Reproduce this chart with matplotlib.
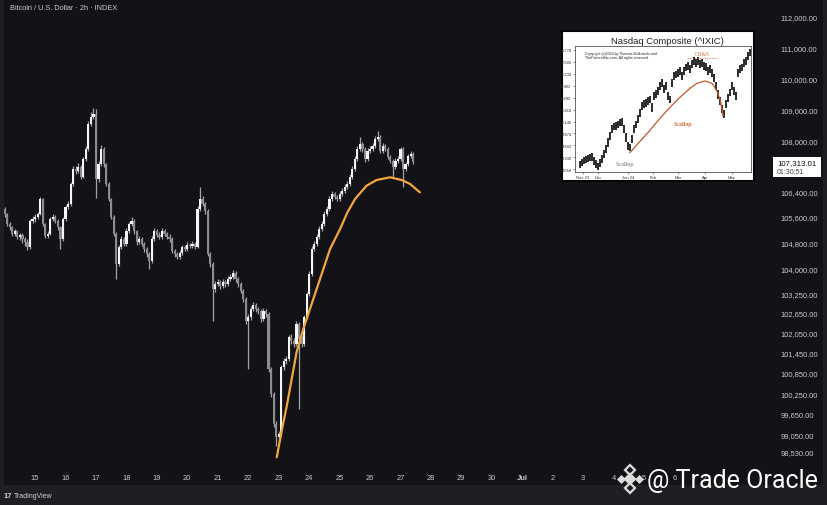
import numpy as np
import matplotlib
matplotlib.use('Agg')
import matplotlib.pyplot as plt
from matplotlib.patches import Rectangle
from matplotlib.lines import Line2D
from matplotlib.ticker import FixedLocator, NullLocator

# ---------------- data: BTCUSD 2h candles (June 14 -> June 27) ----------------
first_open = 106100
closes = [
    105841, 105685, 105375, 105280, 105065, 105157, 104970, 105033, 104910, 104817,
    104663, 105468, 105530, 105592, 105685, 106153, 105375, 105003, 105065, 105530,
    105592, 105468, 105281, 104910, 105530, 105903, 105997, 106624, 107096, 107033,
    107159, 106844, 107412, 107729, 108525, 108749, 108845, 106781, 107254, 107729,
    107254, 106624, 106153, 105592, 105065, 104140, 104663, 104910, 104755, 105157,
    105375, 105468, 105157, 104817, 104910, 104755, 104601, 104447, 104232, 104910,
    105157, 105033, 104972, 105157, 105065, 104972, 104910, 104540, 104447, 104355,
    104478, 104663, 104601, 104724, 104693, 104755, 104663, 105841, 106153, 105997,
    105779, 104447, 104140, 103376, 103528, 103589, 103467, 103589, 103528, 103681,
    103742, 103865, 103681, 103528, 103315, 103072, 102406, 102526, 102768, 102889,
    102768, 102708, 102466, 102708, 102617, 100968, 100227, 99345, 98965, 99053,
    101027, 101206, 101266, 101924, 101804, 101714, 102315, 101864, 101714, 102526,
    103224, 103834, 104601, 104755, 104972, 105219, 105375, 105685, 105841, 106153,
    106310, 106216, 106153, 106310, 106404, 106530, 106624, 106844, 107096, 107412,
    107729, 107887, 107729, 107412, 107666, 107729, 107824, 108046, 108110, 107666,
    107824, 107729, 107476, 107349, 107159, 107349, 107412, 107729, 107096, 107254,
    107507, 107571, 107313]
highs = [
    106220, 105900, 105720, 105450, 105320, 105230, 105200, 105110, 105090, 104980,
    104900, 105520, 105620, 105680, 105760, 106230, 106200, 105420, 105150, 105600,
    105680, 105650, 105520, 105320, 105600, 105960, 106080, 106700, 107180, 107200,
    107300, 107220, 107480, 107830, 108620, 108900, 109050, 109000, 107350, 107850,
    107800, 107300, 106700, 106200, 105650, 105120, 104740, 105000, 104980, 105240,
    105450, 105600, 105520, 105200, 105000, 104980, 104820, 104660, 104500, 104990,
    105250, 105230, 105120, 105240, 105220, 105130, 105050, 104980, 104600, 104510,
    104560, 104740, 104720, 104810, 104800, 104840, 104820, 105920, 106530, 106250,
    106050, 105830, 104520, 104200, 103620, 103680, 103650, 103680, 103650, 103760,
    103820, 103960, 103920, 103740, 103580, 103380, 103120, 102620, 102850, 102980,
    102950, 102840, 102760, 102790, 102770, 102680, 101030, 100290, 99420, 99140,
    101100, 101290, 101360, 102000, 102010, 101900, 102400, 102380, 101950, 102600,
    103300, 103920, 104680, 104850, 105060, 105300, 105460, 105770, 105930, 106240,
    106400, 106380, 106290, 106390, 106490, 106620, 106710, 106930, 107180, 107500,
    107830, 108110, 107960, 107800, 107750, 107830, 107920, 108140, 108300, 108180,
    107920, 107890, 107790, 107540, 107420, 107430, 107500, 107790, 107780, 107330,
    107580, 107660, 107620]
lows = [
    105760, 105600, 105300, 105180, 104990, 105000, 104900, 104880, 104800, 104700,
    104560, 104600, 105400, 105450, 105520, 105640, 105300, 104930, 104950, 105020,
    105460, 105400, 105200, 104600, 104860, 105480, 105850, 105950, 106560, 106950,
    106980, 106780, 106800, 107350, 107680, 108450, 108700, 106200, 106700, 107200,
    107150, 106550, 106080, 105520, 104990, 103680, 104080, 104600, 104680, 104700,
    105100, 105300, 105080, 104740, 104750, 104680, 104520, 104370, 103990, 104180,
    104860, 104960, 104900, 104900, 104990, 104900, 104830, 104470, 104370, 104290,
    104300, 104420, 104530, 104550, 104620, 104630, 104590, 104620, 105790, 105920,
    105700, 104380, 104060, 102420, 103300, 103460, 103390, 103400, 103450, 103460,
    103620, 103680, 103600, 103450, 103240, 102990, 102320, 100970, 102450, 102700,
    102690, 102630, 102380, 102400, 102540, 100880, 100140, 99250, 98700, 98880,
    98990, 100950, 101130, 101200, 101730, 101640, 101650, 99790, 101620, 101650,
    102460, 103160, 103770, 104540, 104690, 104900, 105150, 105320, 105620, 105780,
    106080, 106140, 106080, 106090, 106240, 106340, 106460, 106560, 106780, 107030,
    107350, 107660, 107640, 107330, 107350, 107600, 107660, 107760, 107980, 107590,
    107600, 107650, 107400, 107270, 106850, 107090, 107280, 107340, 106540, 107020,
    107190, 107430, 107250]
start_day = 13.92          # day-of-June numbering; July 1 = 31
bar_step_days = 2 / 24     # 2h candles
last_price_label = '107,313.01'
countdown_label = '01:30:51'

# orange arc drawn on the chart (day-of-June, price)
arc_day = [22.94, 23.10, 23.27, 23.43, 23.59, 23.81, 24.14, 24.36, 24.69, 25.02,
           25.25, 25.51, 25.89, 26.22, 26.66, 27.04, 27.32, 27.64]
arc_price = [98377, 99142, 99884, 100672, 101467, 102166, 103073, 103682, 104602, 105221,
             105717, 106154, 106571, 106750, 106834, 106750, 106624, 106363]

# price axis ticks
y_ticks = [112000, 111000, 110000, 109000, 108000, 106400, 105600, 104800, 104000,
           103250, 102650, 102050, 101450, 100850, 100250, 99650, 99050, 98530]
y_tick_labels = ['112,000.00', '111,000.00', '110,000.00', '109,000.00', '108,000.00',
                 '106,400.00', '105,600.00', '104,800.00', '104,000.00', '103,250.00',
                 '102,650.00', '102,050.00', '101,450.00', '100,850.00', '100,250.00',
                 '99,650.00', '99,050.00', '98,530.00']
x_ticks = list(range(15, 38))
x_tick_labels = [str(d) for d in range(15, 31)] + ['Jul'] + [str(d) for d in range(2, 8)]

# ---------------- data: inset Nasdaq Composite picture ----------------
nq_low = [14090, 14130, 14170, 14190, 14220, 14240, 14250, 14160, 14090, 14040,
          14120, 14210, 14310, 14420, 14570, 14720, 14880, 14950, 14960, 15000,
          15040, 15050, 14880, 14690, 14500, 14470, 14650, 14880, 15000, 15110,
          15260, 15410, 15450, 15480, 15530, 15570, 15370, 15640, 15680, 15760,
          15870, 15940, 15790, 15870, 15640, 15560, 15940, 16100, 16140, 16170,
          16210, 16100, 16210, 16290, 16330, 16260, 16360, 16440, 16400, 16440,
          16360, 16400, 16320, 16310, 16210, 16250, 16170, 16050, 15860, 15670,
          15520, 15330, 15220, 15450, 15600, 15720, 15870, 15750, 15640, 16170,
          16250, 16290, 16400, 16440, 16550, 16630]
nq_high = [14250, 14290, 14330, 14350, 14390, 14400, 14420, 14330, 14260, 14200,
           14300, 14390, 14490, 14610, 14760, 14910, 15060, 15110, 15130, 15170,
           15200, 15220, 15070, 14880, 14680, 14640, 14830, 15060, 15170, 15290,
           15440, 15590, 15630, 15650, 15700, 15740, 15560, 15820, 15860, 15930,
           16050, 16120, 15970, 16050, 15820, 15740, 16120, 16270, 16310, 16350,
           16390, 16280, 16390, 16460, 16500, 16440, 16540, 16620, 16580, 16620,
           16540, 16580, 16500, 16490, 16390, 16430, 16350, 16240, 16050, 15860,
           15710, 15520, 15400, 15630, 15780, 15890, 16050, 15930, 15820, 16350,
           16430, 16460, 16580, 16620, 16730, 16800]
scallop_x = [25, 30, 35, 40, 45, 50, 55, 58.5, 62.5, 66, 68.5, 70, 71, 71.5]
scallop_y = [14439, 14696, 14947, 15221, 15472, 15700, 15905, 16019, 16071, 16019,
             15836, 15654, 15426, 15266]
nq_y_ticks = [14058, 14330, 14602, 14874, 15146, 15418, 15690, 15962, 16234, 16506, 16778]
nq_x_ticks = [1.5, 9, 24, 36.5, 49, 62.5, 76]
nq_x_labels = ['Nov 23', 'Dec', 'Jan 24', 'Feb', 'Mar', 'Apr', 'May']

# ---------------- figure ----------------
W, H = 828, 506
plt.rcParams['font.family'] = ['Liberation Sans', 'DejaVu Sans']
fig = plt.figure(figsize=(W / 100, H / 100), dpi=100)
fig.patch.set_facecolor('#1f1f23')


def fx(px):
    return px / W


def fy(py):
    return 1 - py / H


BG = '#131317'
TXT = '#c9cad0'
fig.patches.append(Rectangle((fx(4), fy(486)), fx(823) - fx(4), fy(0) - fy(486),
                             transform=fig.transFigure, facecolor=BG, edgecolor='none', zorder=-5))

# main axes: px 4..760 horizontally, py 0..468 vertically
ax = fig.add_axes([fx(4), fy(468), fx(760) - fx(4), fy(0) - fy(468)], zorder=1)
ax.set_facecolor(BG)


def px2day(px):
    return 15 + (px - 35) / 30.45


def py2price(py):
    return 112000 * np.exp(-(py - 18) / 3395)


ax.set_yscale('log')
ax.set_xlim(px2day(4), px2day(760))
ax.set_ylim(py2price(468), py2price(0))

c = np.array(closes, dtype=float)
o = np.concatenate([[first_open], c[:-1]])
h = np.array(highs, dtype=float)
l = np.array(lows, dtype=float)
t = start_day + bar_step_days * np.arange(len(c))
up = c >= o
body_lo = np.minimum(o, c)
body_hi = np.maximum(o, c)
body_h = np.maximum(body_hi - body_lo, 30)

ax.vlines(t, np.minimum(l, body_lo), np.maximum(h, body_hi), colors='#a2a2a8', lw=0.9, zorder=2)
ax.bar(t[up], body_h[up], bottom=body_lo[up], width=0.072, color='#f6f6f6', lw=0, zorder=3)
ax.bar(t[~up], body_h[~up], bottom=body_lo[~up], width=0.072, color='#8c8c92', lw=0, zorder=3)

ax.plot(arc_day, arc_price, color='#f4a53c', lw=1.6, solid_capstyle='round', zorder=4)

for s in ax.spines.values():
    s.set_visible(False)
ax.yaxis.set_major_locator(FixedLocator(y_ticks))
ax.yaxis.set_minor_locator(NullLocator())
ax.set_yticklabels(y_tick_labels)
ax.yaxis.tick_right()
ax.tick_params(axis='y', length=0, pad=15, labelsize=5.4, labelcolor=TXT)
ax.set_xticks(x_ticks)
ax.set_xticklabels(x_tick_labels)
ax.tick_params(axis='x', length=0, pad=5, labelsize=5.4, labelcolor=TXT)
for lab in ax.get_xticklabels():
    if lab.get_text() == 'Jul':
        lab.set_fontweight('bold')

# last price box, placed at the last close through the axis scale
y_disp = ax.transData.transform((t[-1], c[-1]))[1]
y_fig = fig.transFigure.inverted().transform((0, y_disp))[1]
box_h = 20 / H
fig.patches.append(Rectangle((fx(773), y_fig - box_h * 0.75), fx(821) - fx(773), box_h,
                             transform=fig.transFigure, facecolor='white', edgecolor='none', zorder=5))
fig.text(fx(777), y_fig, last_price_label, ha='left', va='center', fontsize=5.7,
         color='#111111', zorder=6)
fig.text(fx(777), y_fig - 9.5 / H, countdown_label, ha='left', va='center', fontsize=5.0,
         color='#444444', zorder=6)

# header
fig.text(fx(10), fy(8), 'Bitcoin / U.S. Dollar · 2h · INDEX', ha='left', va='center',
         fontsize=5.3, color=TXT)

# bottom bar
fig.text(fx(4), fy(497), '17', ha='left', va='center', fontsize=5.5, fontweight='bold', color='#d0d0d4')
fig.text(fx(14), fy(497), 'TradingView', ha='left', va='center', fontsize=5.0, color='#d0d0d4')

# watermark
icon_col = '#dcdcdc'
for (px, py, ms, filled) in [(630, 480, 5.5, True), (621, 480, 3.0, True), (639, 480, 3.0, True),
                             (630, 471, 5.5, False), (630, 489, 5.5, False)]:
    fig.add_artist(Line2D([fx(px)], [fy(py)], marker='D', ms=ms, transform=fig.transFigure,
                          mfc=icon_col if filled else 'none', mec=icon_col, mew=1.6, ls='none',
                          zorder=10))
fig.text(fx(647), fy(481), '@ Trade Oracle', ha='left', va='center', fontsize=18,
         color='white', family=['Roboto', 'DejaVu Sans'], zorder=10)

# ---------------- inset Nasdaq chart ----------------
fig.patches.append(Rectangle((fx(562), fy(182)), fx(754) - fx(562), fy(32) - fy(182),
                             transform=fig.transFigure, facecolor='white', edgecolor='#050505',
                             lw=1.5, zorder=7))
ax2 = fig.add_axes([fx(575), fy(173), fx(751) - fx(575), fy(47) - fy(173)], zorder=8)
ax2.set_facecolor('white')
ax2.set_xlim(-2.5, 85.5)
ax2.set_ylim(13996, 16869)
ni = np.arange(len(nq_low))
ax2.vlines(ni, nq_low, nq_high, colors='#111111', lw=1.25)
ax2.plot(scallop_x, scallop_y, color='#c5552c', lw=0.9)
ax2.set_yticks(nq_y_ticks)
ax2.set_yticklabels([str(v) for v in nq_y_ticks])
ax2.set_xticks(nq_x_ticks)
ax2.set_xticklabels(nq_x_labels)
ax2.tick_params(length=1.5, width=0.4, labelsize=3.0, labelcolor='#333333', pad=1, color='#444444')
for s in ax2.spines.values():
    s.set_linewidth(0.5)
    s.set_color('#333333')
ax2.text(51.5, 15107, 'Scallop', fontsize=4.3, color='#d2703f', ha='center', va='center',
         family=['Liberation Serif'], fontweight='bold')
ax2.text(22.5, 14195, 'Scallop', fontsize=4.3, color='#9a9a9a', ha='center', va='center',
         family=['Liberation Serif'], fontweight='bold')
ax2.text(61, 16690, 'CH&S', fontsize=4.0, color='#d2703f', ha='center', va='center',
         family=['Liberation Serif'])
ax2.plot([53.5, 68.5], [16590, 16590], color='#d2703f', lw=0.5, ls=(0, (2, 1.5)))
ax2.text(2.5, 16760, 'Copyright (c)2024 by Thomas Bulkowski and\nThePatternSite.com. All rights reserved.',
         fontsize=2.6, color='#222222', ha='left', va='top', linespacing=1.1)
fig.text(fx(667), fy(42), 'Nasdaq Composite (^IXIC)', ha='center', va='center', fontsize=6.8,
         color='#222222', zorder=9)

fig.savefig('out.png', dpi=100, facecolor=fig.get_facecolor())
